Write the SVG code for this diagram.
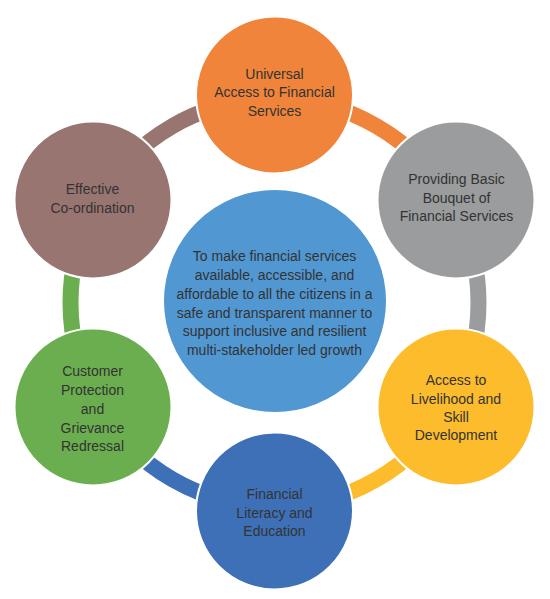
<svg xmlns="http://www.w3.org/2000/svg" width="550" height="599" viewBox="0 0 550 599">
<style>
.arc{fill:none;stroke-width:16}
.node{stroke:#ffffff;stroke-width:2}
text{font-family:"Liberation Sans",Arial,sans-serif;font-size:14px;fill:#333333;text-anchor:middle}
</style>
<rect width="550" height="599" fill="#ffffff"/>
<g id="connectors">
<path class="arc" stroke="#F0843A" d="M274.5,98.75 A204,204 0 0 1 451.17,200.75"/>
<path class="arc" stroke="#9A9C9D" d="M451.17,200.75 A204,204 0 0 1 451.17,404.75"/>
<path class="arc" stroke="#FCBC2B" d="M451.17,404.75 A204,204 0 0 1 274.5,506.75"/>
<path class="arc" stroke="#3E70B8" d="M274.5,506.75 A204,204 0 0 1 97.83,404.75"/>
<path class="arc" stroke="#6BAE4F" d="M97.83,404.75 A204,204 0 0 1 97.83,200.75"/>
<path class="arc" stroke="#997571" d="M97.83,200.75 A204,204 0 0 1 274.5,98.75"/>
</g>
<g id="center">
<circle class="node" cx="275" cy="301" r="112" fill="#5197D2"/>
<text x="274.5" y="261">To make financial services</text>
<text x="274.5" y="280">available, accessible, and</text>
<text x="274.5" y="298.5">affordable to all the citizens in a</text>
<text x="274.5" y="317.5">safe and transparent manner to</text>
<text x="274.5" y="336">support inclusive and resilient</text>
<text x="274.5" y="354.5">multi-stakeholder led growth</text>
</g>
<g id="universal-access">
<circle class="node" cx="274.5" cy="95" r="78.5" fill="#F0843A"/>
<text x="274.5" y="78.5">Universal</text>
<text x="274.5" y="97">Access to Financial</text>
<text x="274.5" y="115.5">Services</text>
</g>
<g id="basic-bouquet">
<circle class="node" cx="456" cy="200" r="78.5" fill="#9A9C9D"/>
<text x="456.5" y="184">Providing Basic</text>
<text x="456.5" y="202.5">Bouquet of</text>
<text x="456.5" y="221">Financial Services</text>
</g>
<g id="livelihood">
<circle class="node" cx="456" cy="407" r="78.5" fill="#FCBC2B"/>
<text x="456" y="384.5">Access to</text>
<text x="456" y="403.5">Livelihood and</text>
<text x="456" y="422">Skill</text>
<text x="456" y="440">Development</text>
</g>
<g id="literacy">
<circle class="node" cx="274.5" cy="511" r="78.5" fill="#3E70B8"/>
<text x="274.5" y="498.5">Financial</text>
<text x="274.5" y="517.5">Literacy and</text>
<text x="274.5" y="536">Education</text>
</g>
<g id="customer-protection">
<circle class="node" cx="93" cy="407" r="78.5" fill="#6BAE4F"/>
<text x="92.5" y="376">Customer</text>
<text x="92.5" y="395">Protection</text>
<text x="92.5" y="413.5">and</text>
<text x="92.5" y="432.5">Grievance</text>
<text x="92.5" y="451">Redressal</text>
</g>
<g id="coordination">
<circle class="node" cx="93" cy="200" r="78.5" fill="#997571"/>
<text x="92.5" y="193.5">Effective</text>
<text x="92.5" y="212.5">Co-ordination</text>
</g>
</svg>
